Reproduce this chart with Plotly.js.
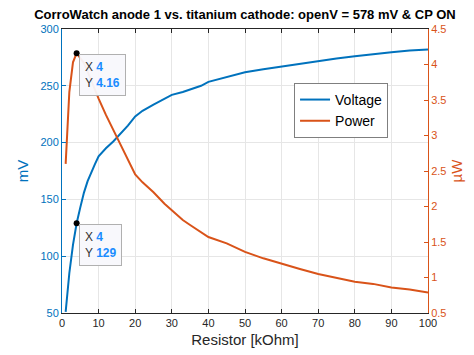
<!DOCTYPE html>
<html>
<head>
<meta charset="utf-8">
<script src="https://cdn.plot.ly/plotly-3.0.1.min.js"></script>
<style>html,body{margin:0;padding:0;background:#fff;}#chart{width:474px;height:355px;}</style>
</head>
<body>
<div id="chart"></div>
<script>
// Resistor values [kOhm]
const resistor = [1,2,3,4,5,6,7,8,9,10,12,14,16,18,20,22,25,28,30,33,35,38,40,45,50,55,60,65,70,75,80,85,90,95,100];
// Voltage [mV]
const voltage = [51,85,110,129,143,156,166,174,181,188,195,201,208,215,223,228,233.5,239,242,244.5,246.5,250,253.5,258,262,264.5,267,269.5,272,274,276,278,279.5,281,282];
// Power [uW]
const power = [2.60,3.61,4.03,4.16,4.09,4.02,3.90,3.77,3.64,3.52,3.29,3.08,2.88,2.67,2.45,2.34,2.20,2.04,1.95,1.81,1.74,1.64,1.57,1.48,1.36,1.27,1.19,1.12,1.05,1.00,0.94,0.91,0.86,0.83,0.79];
// Data tip index (x = 4)
const tipIndex = 3;
const xTicks = [0,10,20,30,40,50,60,70,80,90,100];
const yTicks = [50,100,150,200,250,300];
const y2Ticks = [0.5,1,1.5,2,2.5,3,3.5,4,4.5];

const BLUE = '#0072BD', ORANGE = '#D95319', DARK = '#262626';
const FONT = 'Liberation Sans, Arial, Helvetica, sans-serif';

const traces = [
  {x: resistor, y: voltage, type: 'scatter', mode: 'lines', name: 'Voltage',
   line: {color: BLUE, width: 2}, yaxis: 'y'},
  {x: resistor, y: power, type: 'scatter', mode: 'lines', name: 'Power',
   line: {color: ORANGE, width: 2}, yaxis: 'y2'},
  {x: [resistor[tipIndex]], y: [voltage[tipIndex]], type: 'scatter', mode: 'markers',
   marker: {color: '#000', size: 6}, showlegend: false, yaxis: 'y'},
  {x: [resistor[tipIndex]], y: [power[tipIndex]], type: 'scatter', mode: 'markers',
   marker: {color: '#000', size: 6}, showlegend: false, yaxis: 'y2'}
];

function tipText(xv, yv) {
  return 'X <b><span style="color:#1a8cff">' + xv + '</span></b><br>Y <b><span style="color:#1a8cff">' + yv + '</span></b>';
}

const layout = {
  width: 474, height: 355,
  margin: {l: 62, r: 46, t: 29, b: 42},
  paper_bgcolor: '#fff', plot_bgcolor: '#fff',
  font: {family: FONT, size: 11, color: DARK},
  showlegend: true,
  hovermode: false,
  title: {text: '<b>CorroWatch anode 1 vs. titanium cathode: openV = 578 mV & CP ON</b>',
          font: {family: FONT, size: 13, color: '#000'},
          x: 0.5, xref: 'paper', xanchor: 'center', y: 0.958, yref: 'container', yanchor: 'middle'},
  xaxis: {range: [0, 100], tickvals: xTicks, ticks: 'inside', ticklen: 4, tickcolor: DARK,
          showline: true, linecolor: DARK, linewidth: 1, mirror: 'ticks',
          showgrid: true, gridcolor: '#e6e6e6', zeroline: false,
          tickfont: {size: 11, color: DARK},
          title: {text: 'Resistor [kOhm]', font: {size: 15, color: DARK}, standoff: 6}},
  yaxis: {range: [50, 300], tickvals: yTicks, ticks: 'inside', ticklen: 4, tickcolor: BLUE,
          showline: true, linecolor: BLUE, linewidth: 1,
          showgrid: true, gridcolor: '#e6e6e6', zeroline: false,
          tickfont: {size: 11, color: BLUE},
          title: {text: 'mV', font: {size: 15, color: BLUE}, standoff: 8}},
  yaxis2: {range: [0.5, 4.5], tickvals: y2Ticks, overlaying: 'y', side: 'right',
           ticks: 'inside', ticklen: 4, tickcolor: ORANGE,
           showline: true, linecolor: ORANGE, linewidth: 1,
           showgrid: false, zeroline: false,
           tickfont: {size: 11, color: ORANGE},
           title: {text: 'µW', font: {size: 15, color: ORANGE}, standoff: 6}},
  legend: {x: 0.634, y: 0.81, xanchor: 'left', yanchor: 'top',
           bgcolor: '#fff', bordercolor: '#7f7f7f', borderwidth: 1,
           font: {size: 14, color: '#000'}, tracegroupgap: 0, itemwidth: 30},
  annotations: [
    {x: resistor[tipIndex], y: voltage[tipIndex], xref: 'x', yref: 'y',
     text: tipText(resistor[tipIndex], voltage[tipIndex]), showarrow: false,
     xanchor: 'left', yanchor: 'top', xshift: 2, yshift: -1, align: 'left',
     bgcolor: 'rgba(248,248,252,0.95)', bordercolor: '#b0b0b0', borderwidth: 1, borderpad: 5,
     font: {size: 12, color: '#333', family: FONT}},
    {x: resistor[tipIndex], y: power[tipIndex], xref: 'x', yref: 'y2',
     text: tipText(resistor[tipIndex], power[tipIndex].toFixed(2)), showarrow: false,
     xanchor: 'left', yanchor: 'top', xshift: 2, yshift: -1, align: 'left',
     bgcolor: 'rgba(248,248,252,0.95)', bordercolor: '#b0b0b0', borderwidth: 1, borderpad: 5,
     font: {size: 12, color: '#333', family: FONT}}
  ]
};

Plotly.newPlot('chart', traces, layout, {displayModeBar: false, staticPlot: true});
</script>
</body>
</html>
